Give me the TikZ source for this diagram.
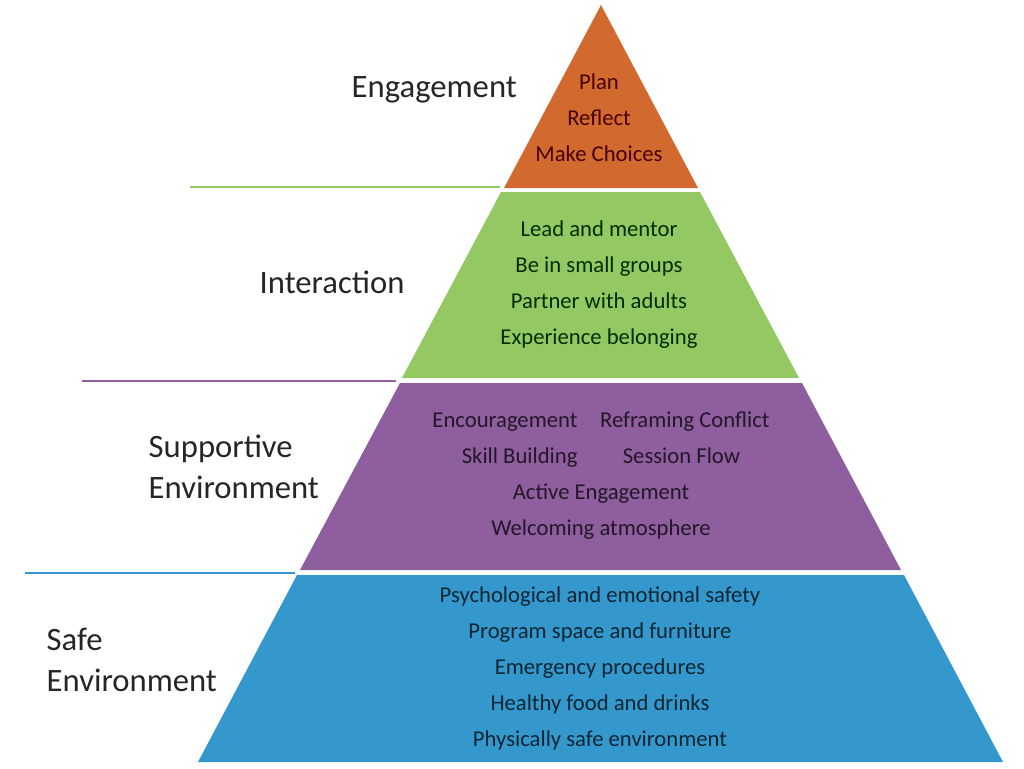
\documentclass[tikz,border=0pt]{standalone}
\usepackage{fontspec}
\setmainfont{Carlito}
\begin{document}
\begin{tikzpicture}[x=0.75pt,y=-0.75pt,
 t/.style={font=\fontsize{17}{27}\selectfont,align=center},
 lab/.style={font=\fontsize{24.5}{30.5}\selectfont,align=left,anchor=west,text=black!85}]
\useasboundingbox (0,0) rectangle (1024,768);
\fill[white] (0,0) rectangle (1024,768);
\definecolor{co}{HTML}{D2692F}\definecolor{cg}{HTML}{93C862}
\definecolor{cp}{HTML}{8E5E9E}\definecolor{cb}{HTML}{3498CD}
\fill[co] (601,5) -- (698,188) -- (504,188) -- cycle;
\fill[cg] (501,192) -- (700,192) -- (799,378) -- (402,378) -- cycle;
\fill[cp] (400,383) -- (802,383) -- (901,570) -- (300,570) -- cycle;
\fill[cb] (297,575) -- (904,575) -- (1003,762) -- (198,762) -- cycle;
\draw[cg,line width=2pt] (190,187) -- (500,187);
\draw[cp,line width=2pt] (82,381) -- (396,381);
\draw[cb,line width=2pt] (25,573) -- (295,573);
\node[t,text=black!60!red!70!black] (e) at (599,118) {Plan\\Reflect\\Make Choices};
\node[t,text=black!70!green!60!black] (i) at (599,285) {Lead and mentor\\Be in small groups\\Partner with adults\\Experience belonging};
\node[t,text=black!75!cp] (s) at (601,476) {Encouragement\quad Reframing Conflict\\Skill Building\qquad Session Flow\\Active Engagement\\Welcoming atmosphere};
\node[t,text=black!75!cb] (f) at (600,668) {Psychological and emotional safety\\Program space and furniture\\Emergency procedures\\Healthy food and drinks\\Physically safe environment};
\node[lab] (le) at (347,90) {Engagement};
\node[lab] (li) at (255,282) {Interaction};
\node[lab] (ls) at (144,467) {Supportive\\Environment};
\node[lab] (lf) at (42,660) {Safe\\Environment};
\end{tikzpicture}
\end{document}
